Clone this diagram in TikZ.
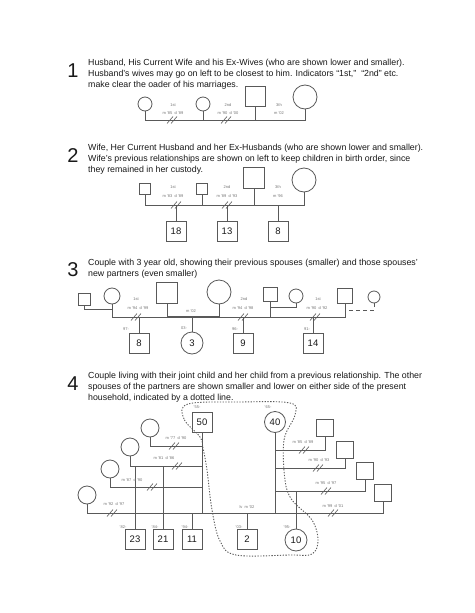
\documentclass[tikz,border=0pt]{standalone}
\usepackage{fontspec}
\setmainfont{Liberation Sans}
\definecolor{lc}{gray}{0.35}
\definecolor{tc}{gray}{0.45}
\definecolor{txt}{gray}{0.1}
\tikzset{
  male/.style={draw=lc, line width=0.8pt, minimum size=#1, inner sep=0pt,
    font=\fontsize{9.5}{9.5}\selectfont, text=txt},
  female/.style={male=#1, circle},
  rel/.style={draw=lc, line width=0.8pt},
  lbl/.style={font=\fontsize{4}{4}\selectfont, text=tc, inner sep=0pt},
  para/.style={anchor=north west, align=left, inner sep=0pt,
    font=\fontsize{8.8}{11}\selectfont, text=txt},
  bignum/.style={font=\fontsize{20}{20}\selectfont, text=txt, inner sep=0pt},
  divorce/.pic={\draw[lc, line width=0.6pt] (-5,3.5) -- (1,-3.5) (-1,3.5) -- (5,-3.5);}
}
\begin{document}
\begin{tikzpicture}[x=1pt, y=-1pt]
  \fill[white] (0,0) rectangle (474,613);
  \useasboundingbox (0,0) rectangle (474,613);
  % 1. Husband, current wife and ex-wives.
  \node[bignum] (n1) at (73,71) {1};
  \node[para] (t1) at (88,58.5) {Husband, His Current Wife and his Ex-Wives (who are shown lower and smaller).\\
    Husband's wives may go on left to be closest to him. Indicators ``1st,''\ \ ``2nd'' etc.\\
    make clear the oader of his marriages.};
  \node[female=14pt] (w1a) at (145,104) {};
  \node[female=14pt] (w1b) at (203,104) {};
  \node[male=20pt] (h1) at (255,96) {};
  \node[female=24pt] (w1c) at (305,97) {};
  \coordinate (m1) at (0,120);
  \draw[rel] (w1a) |- (w1c |- m1) -- (w1c);
  \draw[rel] (w1b) -- (w1b |- m1) (h1) -- (h1 |- m1);
  \pic at (172,120) {divorce};
  \pic at (226,120) {divorce};
  \node[lbl] at (173,105) {1st};
  \node[lbl] at (173,113) {m '85\ \ d '89};
  \node[lbl] at (228,105) {2nd};
  \node[lbl] at (228,113) {m '90\ \ d '00};
  \node[lbl] at (279,105) {3th};
  \node[lbl] at (279,113) {m '02};
  % 2. Wife, current husband and ex-husbands.
  \node[bignum] (n2) at (73,156) {2};
  \node[para] (t2) at (88,143.5) {Wife, Her Current Husband and her Ex-Husbands (who are shown lower and smaller).\\
    Wife's previous relationships are shown on left to keep children in birth order, since\\
    they remained in her custody.};
  \node[male=11pt] (h2a) at (145,189) {};
  \node[male=11pt] (h2b) at (202,189) {};
  \node[male=21pt] (h2c) at (254,178) {};
  \node[female=24pt] (w2) at (304,180) {};
  \coordinate (m2) at (0,205);
  \draw[rel] (h2a) |- (w2 |- m2) -- (w2);
  \draw[rel] (h2b) -- (h2b |- m2) (h2c) -- (h2c |- m2);
  \node[male=20pt] (c2a) at (176,231) {18};
  \node[male=20pt] (c2b) at (227,231) {13};
  \node[male=20pt] (c2c) at (278,231) {8};
  \foreach \c in {c2a,c2b,c2c} \draw[rel] (\c) -- (\c |- m2);
  \pic at (176,205) {divorce};
  \pic at (227,205) {divorce};
  \node[lbl] at (173,187) {1st};
  \node[lbl] at (173,196) {m '83\ \ d '89};
  \node[lbl] at (227,187) {2nd};
  \node[lbl] at (227,196) {m '89\ \ d '93};
  \node[lbl] at (278,187) {3th};
  \node[lbl] at (278,196) {m '96};
  % 3. Couple with previous spouses and their new partners.
  \node[bignum] (n3) at (73,270) {3};
  \node[para] (t3) at (88,258.5) {Couple with 3 year old, showing their previous spouses (smaller) and those spouses'\\
    new partners (even smaller)};
  \node[male=12pt] (s3a) at (84,299) {};
  \node[female=16pt] (s3b) at (112,296) {};
  \node[male=21pt] (h3) at (167,293) {};
  \node[female=24pt] (w3) at (219,292) {};
  \node[male=14pt] (s3c) at (270,294) {};
  \node[female=14pt] (s3d) at (296,296) {};
  \node[male=15pt] (s3e) at (345,296) {};
  \node[female=12pt] (s3f) at (374,297) {};
  \coordinate (m3) at (0,317);
  \coordinate (p3a) at (0,309);
  \coordinate (p3d) at (0,307);
  \coordinate (p3f) at (349,310);
  \draw[rel] (s3b) |- (s3e |- m3) -- (s3e);
  \draw[rel] (s3a) |- (s3b |- p3a);
  \draw[rel] (s3d) |- (s3c |- p3d);
  \draw[rel] (h3) -- (h3 |- m3) (w3) -- (w3 |- m3) (s3c) -- (s3c |- m3);
  \draw[rel, line width=1.8pt] (h3 |- m3) -- (w3 |- m3);
  \draw[rel, dash pattern=on 4pt off 3pt] (p3f) -| (s3f);
  \node[male=20pt] (c3a) at (139,343) {8};
  \node[female=22pt] (c3b) at (192,343) {3};
  \node[male=20pt] (c3c) at (243,343) {9};
  \node[male=20pt] (c3d) at (313,343) {14};
  \foreach \c in {c3a,c3b,c3c,c3d} \draw[rel] (\c) -- (\c |- m3);
  \pic at (136,317) {divorce};
  \pic at (243,317) {divorce};
  \pic at (315,317) {divorce};
  \node[lbl] at (136,299) {1st};
  \node[lbl] at (138,308) {m '94\ \ d '99};
  \node[lbl] at (191,311) {m '02};
  \node[lbl] at (244,299) {2nd};
  \node[lbl] at (243,308) {m '94\ \ d '98};
  \node[lbl] at (318,299) {1st};
  \node[lbl] at (317,308) {m '90\ \ d '92};
  \node[lbl] at (126,329) {97-};
  \node[lbl] at (184,328) {03-};
  \node[lbl] at (235,329) {96-};
  \node[lbl] at (307,329) {91-};
  % 4. Couple living with joint child and her child, others outside.
  \node[bignum] (n4) at (73,384) {4};
  \node[para] (t4) at (88,371.5) {Couple living with their joint child and her child from a previous relationship. The other\\
    spouses of the partners are shown smaller and lower on either side of the present\\
    household, indicated by a dotted line.};
  \node[male=20pt] (h4) at (202,422) {50};
  \node[female=21pt] (w4) at (275,422) {40};
  \node[female=18pt] (wa) at (150,428) {};
  \node[female=18pt] (wb) at (130,447) {};
  \node[female=18pt] (wc) at (110,469) {};
  \node[female=18pt] (wd) at (87,495) {};
  \node[male=17pt] (me) at (325,428) {};
  \node[male=17pt] (mf) at (345,450) {};
  \node[male=17pt] (mg) at (365,471) {};
  \node[male=17pt] (mh) at (383,493) {};
  \coordinate (m4) at (0,513);
  \coordinate (la) at (0,446);
  \coordinate (lb) at (0,466);
  \coordinate (lc) at (0,487);
  \coordinate (le) at (0,450);
  \coordinate (lf) at (0,468);
  \coordinate (lg) at (0,491);
  \draw[rel] (wd) |- (mh |- m4) -- (mh);
  \draw[rel] (h4) -- (h4 |- m4) (w4) -- (w4 |- m4);
  \draw[rel] (wa) |- (h4 |- la) (wb) |- (h4 |- lb) (wc) |- (h4 |- lc);
  \draw[rel] (me) |- (w4 |- le) (mf) |- (w4 |- lf) (mg) |- (w4 |- lg);
  \node[male=20pt] (c4a) at (135,539) {23};
  \node[male=20pt] (c4b) at (163,539) {21};
  \node[male=20pt] (c4c) at (192,539) {11};
  \node[male=20pt] (c4d) at (247,539) {2};
  \node[female=22pt] (c4e) at (296,540) {10};
  \draw[rel] (c4a) -- (c4a |- lb) (c4b) -- (c4b |- lb);
  \draw[rel] (c4c) -- (c4c |- m4) (c4d) -- (c4d |- m4) (c4e) -- (c4e |- lg);
  \foreach \x/\y in {174/446,177/466,152/487,112/513,304/450,318/468,326/491,333/513}
    \pic at (\x,\y) {divorce};
  \node[lbl] at (197,407) {'55-};
  \node[lbl] at (268,407) {'65-};
  \node[lbl] at (176,438) {m '77\ \ d '90};
  \node[lbl] at (164,458) {m '81\ \ d '86};
  \node[lbl] at (132,480) {m '87\ \ d '90};
  \node[lbl] at (114,504) {m '92\ \ d '97};
  \node[lbl] at (303,442) {m '85\ \ d '89};
  \node[lbl] at (319,460) {m '90\ \ d '93};
  \node[lbl] at (326,483) {m '95\ \ d '97};
  \node[lbl] at (333,506) {m '99\ \ d '01};
  \node[lbl] at (247,507) {lv\ \ m '02};
  \node[lbl] at (123,527) {'82-};
  \node[lbl] at (155,527) {'84-};
  \node[lbl] at (185,527) {'94-};
  \node[lbl] at (239,527) {'03-};
  \node[lbl] at (287,527) {'95-};
  % the household
  \draw[lc, line width=0.9pt, dash pattern=on 1.3pt off 1.5pt]
    plot[smooth cycle, tension=0.6] coordinates {(200,437) (184,419) (188,404) (240,402)
      (290,403) (295,415) (284,440) (285,480) (292,500) (312,520) (318,540) (312,554)
      (290,555) (236,555) (220,541) (212,510) (207,470) (203,448)};
\end{tikzpicture}
\end{document}
